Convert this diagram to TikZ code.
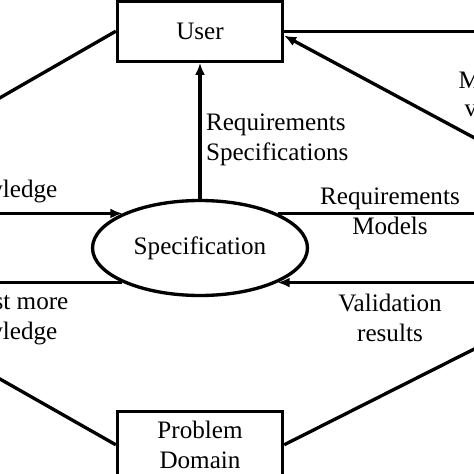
\documentclass[tikz,border=0pt]{standalone}
\usepackage{fontspec}
\setmainfont{Liberation Serif}
\usetikzlibrary{arrows.meta, positioning, shapes.geometric}

\begin{document}
\begin{tikzpicture}[
    x=0.02cm, y=-0.02cm,
    >={Latex[length=0.24cm, width=0.2cm]},
    font=\fontsize{14.3}{17.1}\selectfont,
    line width=1.9pt,
    block/.style = {draw, rectangle, minimum width=3.3cm, minimum height=1.2cm, align=center},
    proc/.style = {draw, ellipse, minimum width=4.3cm, minimum height=1.9cm, inner sep=0pt},
    arrow/.style = {->},
    lbl/.style = {align=center, inner sep=0pt}
]
\useasboundingbox (0,0) rectangle (474,474);
\clip (0,0) rectangle (474,474);

% =========================================================
% NODES
% =========================================================
\node[proc] (spec) at (200,248) {Specification};
\node[block, above=2.72cm of spec] (user) {User};
\node[block, below=2.26cm of spec, minimum height=1.32cm] (domain) {Problem\\Domain};

% off-picture ends
\coordinate (lft) at (-30,0);
\coordinate (rgt) at (510,0);
\coordinate (ul) at (-30,115);
\coordinate (ur) at (510,157);
\coordinate (dl) at (-30,362);
\coordinate (dr) at (510,331);

% =========================================================
% WIRING: USER
% =========================================================
\draw[arrow] (spec.north) -- node[right=2.5pt, lbl, align=left, yshift=-5pt]
    {Requirements\\Specifications} (user.south);
\draw (user.west) -- (ul);
\draw (user.east) -- (user.east -| rgt);
\draw[arrow] (ur) -- (user.-3);

% =========================================================
% WIRING: SPECIFICATION LEFT / RIGHT
% =========================================================
\draw[arrow] (spec.156 -| lft) -- (spec.156);
\draw (spec.24) -- (spec.24 -| rgt);
\draw (spec.204) -- (spec.204 -| lft);
\draw[arrow] (spec.336 -| rgt) -- (spec.336);

\node[lbl, anchor=base east] (know) at (59,197) {wledge};
\node[lbl] (reqmod) at (390,211) {Requirements\\Models};
\node[lbl, anchor=base east] (ask) at (70,309) {st more};
\node[lbl, anchor=base east] (know2) at (59,339) {wledge};
\node[lbl] (valid) at (390,318) {Validation\\results};
\node[lbl, anchor=base west] (mod) at (457,88) {M};
\node[lbl, anchor=base west] (with) at (463,116) {v};

% =========================================================
% WIRING: PROBLEM DOMAIN
% =========================================================
\draw (domain.west) -- (dl);
\draw (domain.east) -- (dr);

\end{tikzpicture}
\end{document}
